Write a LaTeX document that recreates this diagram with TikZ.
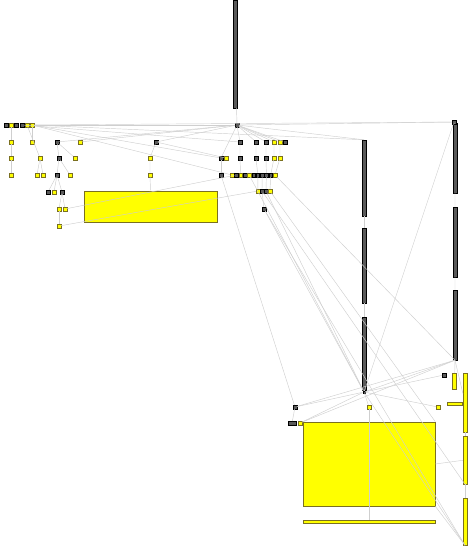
\documentclass[tikz,border=0pt]{standalone}
\usepackage{tikz}
\definecolor{dkfill}{HTML}{5A5A5A}
\definecolor{ylfill}{HTML}{FFFF00}
\definecolor{ylline}{HTML}{7A7020}
\tikzset{
  dk/.style={draw=black,fill=dkfill,line width=0.4pt,inner sep=0pt,minimum size=3.6pt},
  yl/.style={draw=ylline,fill=ylfill,line width=0.4pt,inner sep=0pt,minimum size=3.6pt},
  dkbar/.style={draw=black,fill=dkfill,line width=0.4pt,inner sep=0pt,minimum width=4pt},
  ylbar/.style={draw=ylline,fill=ylfill,line width=0.6pt,inner sep=0pt},
  link/.style={draw=gray!38,line width=0.45pt}
}
\begin{document}
\begin{tikzpicture}[x=1pt,y=-1pt]
\useasboundingbox (0,0) rectangle (474,548);
% big blocks
\node[ylbar,minimum width=133pt,minimum height=31pt] (blockA) at (150.5,206.5) {};
\node[ylbar,minimum width=132pt,minimum height=84pt] (blockB) at (369,464) {};
\node[ylbar,minimum width=132pt,minimum height=3pt] (stripB) at (369,521.5) {};
% long dark bars
\node[dkbar,minimum height=108pt] (mast) at (235,54) {};
\node[dkbar,minimum height=76pt] (colA1) at (364,178) {};
\node[dkbar,minimum height=75pt] (colA2) at (364,265.5) {};
\node[dkbar,minimum height=73pt] (colA3) at (364,353.5) {};
\node[dkbar,minimum height=70pt] (colB1) at (455,158) {};
\node[dkbar,minimum height=70pt] (colB2) at (455,242) {};
\node[dkbar,minimum height=70pt] (colB3) at (455,325) {};
% yellow bars on the right
\node[ylbar,minimum width=3.6pt,minimum height=16pt] (barY1) at (454.5,381) {};
\node[ylbar,minimum width=3.6pt,minimum height=59pt] (barY2) at (465,402.5) {};
\node[ylbar,minimum width=15pt,minimum height=3.2pt] (barY3) at (454.5,403.5) {};
\node[ylbar,minimum width=3.6pt,minimum height=48pt] (barY4) at (465,460) {};
\node[ylbar,minimum width=3.6pt,minimum height=47pt] (barY5) at (465,521.5) {};
% left cluster
\node[dk] (a1) at (6,125) {};  \node[yl] (a2) at (11,125) {};
\node[dk] (a3) at (16,125) {}; \node[dk] (a4) at (22,125) {};
\node[yl] (a5) at (27,125) {}; \node[yl] (a6) at (32,125) {};
\node[yl] (b1) at (11,142) {}; \node[yl] (b2) at (32,142) {};
\node[dk] (b3) at (57,142) {}; \node[yl] (b4) at (80,142) {};
\node[dk] (b5) at (156,142) {};
\node[yl] (c1) at (11,158) {}; \node[yl] (c2) at (40,158) {};
\node[dk] (c3) at (59,158) {}; \node[yl] (c4) at (75,158) {};
\node[yl] (c5) at (150,158) {};
\node[yl] (d1) at (11,175) {}; \node[yl] (d2) at (37,175) {};
\node[yl] (d3) at (43,175) {}; \node[dk] (d4) at (57,175) {};
\node[yl] (d5) at (70,175) {}; \node[yl] (d6) at (150,175) {};
\node[dk] (e1) at (48,192) {}; \node[yl] (e2) at (54,192) {};
\node[dk] (e3) at (62,192) {};
\node[yl] (f1) at (59,209) {}; \node[yl] (f2) at (65,209) {};
\node[yl] (g1) at (59,226) {};
% middle cluster
\node[dk] (root) at (237,125) {};
\node[dk] (m1) at (240,142) {}; \node[dk] (m2) at (256,142) {};
\node[dk] (m3) at (266,142) {}; \node[yl] (m4) at (274,142) {};
\node[yl] (m5) at (280,142) {}; \node[dk] (m6) at (285,142) {};
\node[dk] (n0) at (221,158) {}; \node[yl] (n6) at (226,158) {};
\node[dk] (n1) at (240,158) {}; \node[dk] (n2) at (256,158) {};
\node[dk] (n3) at (266,158) {}; \node[yl] (n4) at (274,158) {};
\node[yl] (n5) at (280,158) {};
\node[dk] (p0) at (221,175) {};
\foreach \i/\s in {1/yl,2/dk,3/yl,4/dk,5/yl,6/dk,7/dk,8/dk,9/dk,10/dk,11/yl}
  \node[\s] (p\i) at ({227.7+4.3*\i},175) {};
\node[yl] (q1) at (258,191) {}; \node[dk] (q2) at (262,191) {};
\node[dk] (q3) at (266,191) {}; \node[yl] (q4) at (270,191) {};
\node[dk] (s1) at (264,209) {};
% right side
\node[dk] (top) at (454,122) {};
\node[dk,minimum size=2.5pt] (hub) at (364,392) {};
\node[dk] (u1) at (444,375) {};
\node[dk] (v1) at (295,407) {}; \node[yl] (v2) at (369,407) {};
\node[yl] (v3) at (438,407) {};
\node[dk,minimum width=8pt] (w1) at (292,423) {}; \node[yl] (w2) at (300,423) {};
% links
\begin{scope}[on background layer/.try]
\draw[link] (mast) -- (root);
\draw[link] (a2) -- (b1) -- (c1) -- (d1);
\draw[link] (a6) -- (b2); \draw[link] (a5) -- (c2);
\draw[link] (c2) -- (d2); \draw[link] (c2) -- (d3);
\draw[link] (b3) -- (c3); \draw[link] (b3) -- (c4);
\draw[link] (c3) -- (d4); \draw[link] (c3) -- (d5);
\draw[link] (d4) -- (e1); \draw[link] (d4) -- (e2); \draw[link] (d4) -- (e3);
\draw[link] (e3) -- (f1); \draw[link] (e3) -- (f2); \draw[link] (f1) -- (g1);
\draw[link] (b3) -- (root); \draw[link] (b4) -- (root);
\draw[link] (b5) -- (c5) -- (d6) -- (blockA.north);
\draw[link] (a6) -- (root); \draw[link] (a6) -- (top);
\draw[link] (a6) -- (colA1.north); \draw[link] (a6) -- (n0);
\draw[link] (a4) -- (m1); \draw[link] (a6) -- (p1);
\draw[link] (b5) -- (n6);
\draw[link] (f2) -- (p2); \draw[link] (g1) -- (q1);
\draw[link] (root) -- (b5); \draw[link] (root) -- (top);
\draw[link] (root) -- (colA1.north);
\foreach \k in {1,...,6} \draw[link] (root) -- (m\k);
\draw[link] (root) -- (n0);
\draw[link] (m1) -- (n1) -- (p3); \draw[link] (m2) -- (n2) -- (p7);
\draw[link] (m3) -- (n3) -- (p9); \draw[link] (m4) -- (n4) -- (p10);
\draw[link] (m5) -- (n5) -- (p11); \draw[link] (n0) -- (p0);
\draw[link] (p7) -- (q1); \draw[link] (p8) -- (q2);
\draw[link] (p9) -- (q3); \draw[link] (p10) -- (q4); \draw[link] (q2) -- (s1);
\draw[link] (p0) -- (v1);
\draw[link] (p5) -- (hub); \draw[link] (q3) -- (hub);
\draw[link] (s1) -- (hub); \draw[link] (q4) -- (blockB.north east);
\draw[link] (s1) -- (barY5.south); \draw[link] (p11) -- (colB3.south);
\draw[link] (q2) -- (barY4.south);
\draw[link] (top) -- (hub);
\draw[link] (colA1) -- (colA2) -- (colA3) -- (hub);
\draw[link] (top) -- (colB1) -- (colB2) -- (colB3);
\draw[link] (hub) -- (v1); \draw[link] (hub) -- (v2);
\draw[link] (hub) -- (v3); \draw[link] (hub) -- (colB3.south);
\draw[link] (hub) -- (u1); \draw[link] (hub) -- (w2);
\draw[link] (colB3.south) -- (v1); \draw[link] (colB3.south) -- (w2);
\draw[link] (colB3.south) -- (barY1); \draw[link] (colB3.south) -- (barY2);
\draw[link] (v1) -- (w1);
\draw[link] (v2) -- (stripB.north);
\draw[link] (hub) -- (barY5.south);
\draw[link] (blockB.south east) -- (barY5.south);
\draw[link] (blockB.east) -- (barY4);
\draw[link] (barY2) -- (barY4) -- (barY5);
\end{scope}
\end{tikzpicture}
\end{document}
